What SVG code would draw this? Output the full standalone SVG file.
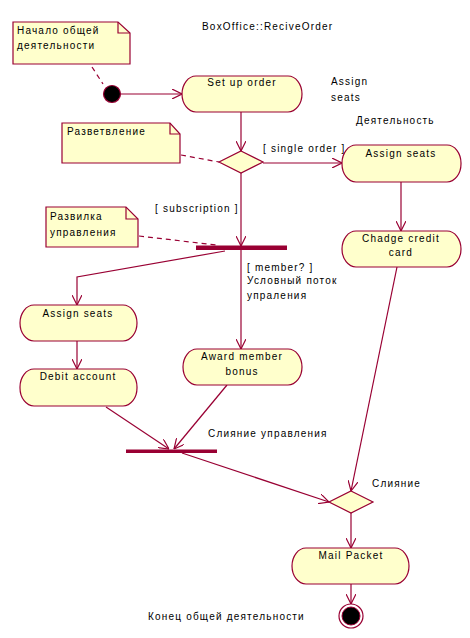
<svg xmlns="http://www.w3.org/2000/svg" width="470" height="638" viewBox="0 0 470 638">
<style>
text{font-family:"Liberation Sans",Arial,sans-serif;font-size:10px;letter-spacing:1.2px;fill:#000}
.c{text-anchor:middle}
.act{fill:#FFFFCC;stroke:#990033;stroke-width:1.2}
.note{fill:#FFFFCC;stroke:#990033;stroke-width:1.2}
.fold{fill:none;stroke:#990033;stroke-width:1.2}
.ln{fill:none;stroke:#990033;stroke-width:1.2}
.dash{fill:none;stroke:#990033;stroke-width:1.2;stroke-dasharray:5,4}
.bar{fill:#990033}
</style>
<defs>
<marker id="arr" viewBox="0 0 10 10" refX="10" refY="5" markerWidth="10" markerHeight="10" markerUnits="userSpaceOnUse" orient="auto">
<path d="M0,0 L10,5 L0,10" fill="none" stroke="#990033" stroke-width="1.2"/>
</marker>
</defs>
<rect width="470" height="638" fill="#fff"/>
<text x="202" y="30">BoxOffice::ReciveOrder</text>
<text x="331" y="85">Assign</text>
<text x="331" y="101">seats</text>
<text x="356" y="124">Деятельность</text>

<g id="connectors">
<line class="dash" x1="92" y1="67" x2="103" y2="84"/>
<line class="ln" x1="121" y1="94" x2="182" y2="94" marker-end="url(#arr)"/>
<line class="ln" x1="241" y1="112" x2="241" y2="151" marker-end="url(#arr)"/>
<line class="dash" x1="181" y1="155" x2="219" y2="162"/>
<line class="ln" x1="263" y1="163" x2="342" y2="163" marker-end="url(#arr)"/>
<line class="ln" x1="401" y1="182" x2="401" y2="231" marker-end="url(#arr)"/>
<line class="ln" x1="241" y1="173" x2="241" y2="246" marker-end="url(#arr)"/>
<line class="dash" x1="139" y1="236" x2="216" y2="245"/>
<polyline class="ln" points="225,251 77,277 77,305" marker-end="url(#arr)"/>
<line class="ln" x1="77" y1="341" x2="77" y2="369" marker-end="url(#arr)"/>
<line class="ln" x1="241" y1="250" x2="241" y2="349" marker-end="url(#arr)"/>
<line class="ln" x1="106" y1="407" x2="169" y2="449" marker-end="url(#arr)"/>
<line class="ln" x1="227" y1="385" x2="174" y2="449" marker-end="url(#arr)"/>
<line class="ln" x1="182" y1="453" x2="329" y2="502" marker-end="url(#arr)"/>
<line class="ln" x1="397" y1="267" x2="351" y2="491" marker-end="url(#arr)"/>
<line class="ln" x1="351" y1="512" x2="351" y2="548" marker-end="url(#arr)"/>
<line class="ln" x1="351" y1="584" x2="351" y2="604" marker-end="url(#arr)"/>
</g>
<g id="labels">
<text x="263" y="152">[ single order ]</text>
<text x="155" y="212">[ subscription ]</text>
<text x="247" y="271">[ member? ]</text>
<text x="247" y="284">Условный поток</text>
<text x="247" y="299">упраления</text>
<text x="208" y="437">Слияние управления</text>
<text x="372" y="487">Слияние</text>
<text x="148" y="620">Конец общей деятельности</text>
</g>

<g id="note-start">
<path class="note" d="M13,22 H118 L130,33 V64 H13 Z"/>
<path class="fold" d="M118,22 V33 H130"/>
<text x="17" y="34">Начало общей</text>
<text x="17" y="49">деятельности</text>
</g>
<g id="start">
<circle cx="112" cy="94" r="8.5" fill="#000" stroke="#990033" stroke-width="1.2"/>
</g>
<g id="setup">
<rect class="act" x="182" y="76" width="120" height="36" rx="14" ry="18"/>
<text class="c" x="242" y="86">Set up order</text>
</g>
<g id="note-branch">
<path class="note" d="M62,123 H170 L180,134 V163 H62 Z"/>
<path class="fold" d="M170,123 V134 H180"/>
<text x="67" y="135">Разветвление</text>
</g>
<g id="decision">
<polygon class="act" points="241,151 263,162 241,173 219,162"/>
</g>
<g id="assign-right">
<rect class="act" x="342" y="145" width="119" height="37" rx="14" ry="18"/>
<text class="c" x="401" y="157">Assign seats</text>
</g>
<g id="charge">
<rect class="act" x="342" y="231" width="119" height="36" rx="14" ry="18"/>
<text class="c" x="401" y="242">Chadge credit</text>
<text class="c" x="401" y="256">card</text>
</g>
<g id="note-fork">
<path class="note" d="M46,207 H126 L138,219 V247 H46 Z"/>
<path class="fold" d="M126,207 V219 H138"/>
<text x="50" y="220">Развилка</text>
<text x="50" y="236">управления</text>
</g>
<g id="fork">
<rect class="bar" x="196" y="245.5" width="91" height="4.5"/>
</g>
<g id="assign-left">
<rect class="act" x="20" y="305" width="117" height="36" rx="14" ry="18"/>
<text class="c" x="78" y="317">Assign seats</text>
</g>
<g id="debit">
<rect class="act" x="20" y="369" width="117" height="37" rx="14" ry="18"/>
<text class="c" x="78" y="380">Debit account</text>
</g>
<g id="award">
<rect class="act" x="183" y="349" width="119" height="36" rx="14" ry="18"/>
<text class="c" x="242" y="360">Award member</text>
<text class="c" x="242" y="375">bonus</text>
</g>
<g id="join">
<rect class="bar" x="126" y="449.5" width="91" height="3.5"/>
</g>
<g id="merge">
<polygon class="act" points="351,491 373,502 351,513 329,502"/>
</g>
<g id="mail">
<rect class="act" x="292" y="548" width="117" height="36" rx="14" ry="18"/>
<text class="c" x="351" y="559">Mail Packet</text>
</g>
<g id="end">
<circle cx="351" cy="616" r="12" fill="#fff" stroke="#990033" stroke-width="1.2"/>
<circle cx="351" cy="616" r="9" fill="#000" stroke="#990033" stroke-width="1"/>
</g>
</svg>
